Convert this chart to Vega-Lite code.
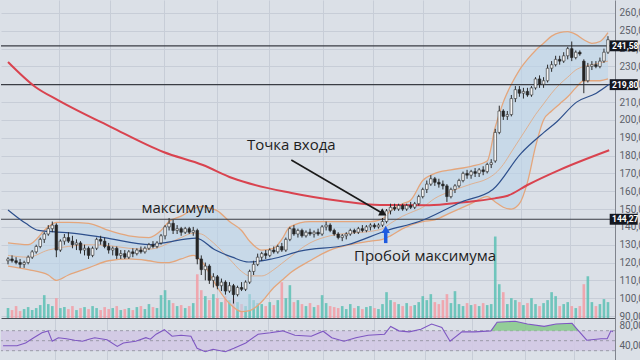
{
"$schema": "https://vega.github.io/schema/vega-lite/v6.json",
"background": "#dbe0e7",
"padding": 0,
"spacing": 0,
"bounds": "flush",
"config": {
  "view": {"stroke": null},
  "axis": {"labelFont": "Roboto", "labelFontSize": 10, "labelColor": "#5b5f69", "gridColor": "#c7cdd7", "ticks": false, "domainColor": "#80848d", "labelPadding": 4, "labelOverlap": false}
},
"datasets": {
  "candles": [
{"i":0,"o":121,"h":123,"l":119,"c":122,"v":10},{"i":1,"o":122,"h":124,"l":120,"c":121,"v":8},{"i":2,"o":121,"h":123,"l":119,"c":120,"v":12},{"i":3,"o":120,"h":122,"l":117,"c":119,"v":7},{"i":4,"o":119,"h":121,"l":117,"c":120,"v":9},
{"i":5,"o":120,"h":124,"l":119,"c":123,"v":11},{"i":6,"o":123,"h":127,"l":122,"c":126,"v":8},{"i":7,"o":126,"h":130,"l":125,"c":129,"v":10},{"i":8,"o":129,"h":134,"l":128,"c":133,"v":13},{"i":9,"o":133,"h":137,"l":131,"c":136,"v":23},
{"i":10,"o":136,"h":141,"l":135,"c":139,"v":14},{"i":11,"o":139,"h":143,"l":137,"c":141,"v":12},{"i":12,"o":141,"h":142,"l":123,"c":127,"v":20},{"i":13,"o":127,"h":133,"l":126,"c":132,"v":10},{"i":14,"o":132,"h":136,"l":130,"c":134,"v":11},
{"i":15,"o":134,"h":137,"l":131,"c":132,"v":9},{"i":16,"o":132,"h":135,"l":128,"c":130,"v":12},{"i":17,"o":130,"h":133,"l":127,"c":131,"v":8},{"i":18,"o":131,"h":132,"l":125,"c":127,"v":10},{"i":19,"o":127,"h":130,"l":124,"c":128,"v":11},
{"i":20,"o":128,"h":129,"l":122,"c":124,"v":9},{"i":21,"o":124,"h":129,"l":123,"c":128,"v":12},{"i":22,"o":128,"h":134,"l":127,"c":133,"v":10},{"i":23,"o":133,"h":135,"l":130,"c":132,"v":8},{"i":24,"o":132,"h":134,"l":128,"c":129,"v":11},
{"i":25,"o":129,"h":131,"l":125,"c":127,"v":9},{"i":26,"o":127,"h":129,"l":124,"c":128,"v":10},{"i":27,"o":128,"h":129,"l":122,"c":124,"v":12},{"i":28,"o":124,"h":127,"l":122,"c":125,"v":8},{"i":29,"o":125,"h":127,"l":122,"c":123,"v":9},
{"i":30,"o":123,"h":127,"l":122,"c":126,"v":10},{"i":31,"o":126,"h":128,"l":123,"c":125,"v":8},{"i":32,"o":125,"h":128,"l":124,"c":127,"v":11},{"i":33,"o":127,"h":129,"l":125,"c":126,"v":12},{"i":34,"o":126,"h":129,"l":125,"c":128,"v":9},
{"i":35,"o":128,"h":131,"l":127,"c":130,"v":14},{"i":36,"o":130,"h":132,"l":128,"c":129,"v":11},{"i":37,"o":129,"h":132,"l":128,"c":131,"v":10},{"i":38,"o":131,"h":136,"l":130,"c":135,"v":23},{"i":39,"o":135,"h":141,"l":133,"c":140,"v":28},
{"i":40,"o":140,"h":145,"l":138,"c":142,"v":18},{"i":41,"o":142,"h":144,"l":136,"c":138,"v":15},{"i":42,"o":138,"h":141,"l":136,"c":139,"v":12},{"i":43,"o":139,"h":140,"l":135,"c":137,"v":13},{"i":44,"o":137,"h":140,"l":136,"c":139,"v":10},
{"i":45,"o":139,"h":140,"l":136,"c":137,"v":12},{"i":46,"o":137,"h":140,"l":135,"c":138,"v":15},{"i":47,"o":138,"h":139,"l":119,"c":122,"v":44},{"i":48,"o":122,"h":124,"l":113,"c":116,"v":28},{"i":49,"o":116,"h":120,"l":110,"c":118,"v":22},
{"i":50,"o":118,"h":119,"l":108,"c":110,"v":18},{"i":51,"o":110,"h":114,"l":106,"c":112,"v":24},{"i":52,"o":112,"h":113,"l":105,"c":107,"v":20},{"i":53,"o":107,"h":111,"l":104,"c":109,"v":16},{"i":54,"o":109,"h":110,"l":102,"c":104,"v":22},
{"i":55,"o":104,"h":109,"l":103,"c":107,"v":18},{"i":56,"o":107,"h":108,"l":97,"c":102,"v":20},{"i":57,"o":102,"h":107,"l":101,"c":106,"v":16},{"i":58,"o":106,"h":109,"l":104,"c":105,"v":14},{"i":59,"o":105,"h":110,"l":104,"c":109,"v":12},
{"i":60,"o":109,"h":116,"l":108,"c":115,"v":24},{"i":61,"o":115,"h":121,"l":113,"c":119,"v":18},{"i":62,"o":119,"h":125,"l":118,"c":123,"v":15},{"i":63,"o":123,"h":126,"l":121,"c":125,"v":14},{"i":64,"o":125,"h":127,"l":122,"c":124,"v":12},
{"i":65,"o":124,"h":128,"l":123,"c":127,"v":16},{"i":66,"o":127,"h":129,"l":125,"c":126,"v":13},{"i":67,"o":126,"h":130,"l":125,"c":129,"v":18},{"i":68,"o":129,"h":131,"l":126,"c":127,"v":36},{"i":69,"o":127,"h":134,"l":126,"c":133,"v":20},
{"i":70,"o":133,"h":140,"l":132,"c":139,"v":33},{"i":71,"o":139,"h":141,"l":135,"c":136,"v":16},{"i":72,"o":136,"h":139,"l":134,"c":138,"v":18},{"i":73,"o":138,"h":139,"l":134,"c":135,"v":14},{"i":74,"o":135,"h":138,"l":134,"c":137,"v":12},
{"i":75,"o":137,"h":139,"l":135,"c":136,"v":15},{"i":76,"o":136,"h":138,"l":134,"c":137,"v":11},{"i":77,"o":137,"h":139,"l":135,"c":136,"v":13},{"i":78,"o":136,"h":141,"l":135,"c":140,"v":23},{"i":79,"o":140,"h":143,"l":138,"c":141,"v":15},
{"i":80,"o":141,"h":142,"l":137,"c":138,"v":12},{"i":81,"o":138,"h":139,"l":135,"c":136,"v":11},{"i":82,"o":136,"h":137,"l":133,"c":134,"v":10},{"i":83,"o":134,"h":136,"l":132,"c":135,"v":12},{"i":84,"o":135,"h":137,"l":133,"c":136,"v":9},
{"i":85,"o":136,"h":139,"l":135,"c":138,"v":14},{"i":86,"o":138,"h":139,"l":136,"c":137,"v":10},{"i":87,"o":137,"h":140,"l":136,"c":139,"v":12},{"i":88,"o":139,"h":141,"l":137,"c":138,"v":9},{"i":89,"o":138,"h":141,"l":137,"c":140,"v":11},
{"i":90,"o":140,"h":142,"l":138,"c":141,"v":12},{"i":91,"o":141,"h":142,"l":139,"c":140,"v":10},{"i":92,"o":140,"h":142,"l":139,"c":141,"v":9},{"i":93,"o":141,"h":145,"l":140,"c":143,"v":14},{"i":94,"o":143,"h":150,"l":142,"c":149,"v":26},
{"i":95,"o":149,"h":153,"l":147,"c":151,"v":18},{"i":96,"o":151,"h":153,"l":149,"c":150,"v":16},{"i":97,"o":150,"h":153,"l":149,"c":152,"v":14},{"i":98,"o":152,"h":153,"l":149,"c":150,"v":12},{"i":99,"o":150,"h":153,"l":149,"c":152,"v":15},
{"i":100,"o":152,"h":154,"l":150,"c":151,"v":12},{"i":101,"o":151,"h":154,"l":150,"c":153,"v":13},{"i":102,"o":153,"h":158,"l":152,"c":157,"v":16},{"i":103,"o":157,"h":162,"l":156,"c":161,"v":22},{"i":104,"o":161,"h":166,"l":159,"c":164,"v":18},
{"i":105,"o":164,"h":169,"l":163,"c":167,"v":24},{"i":106,"o":167,"h":168,"l":163,"c":165,"v":16},{"i":107,"o":165,"h":167,"l":162,"c":164,"v":14},{"i":108,"o":164,"h":166,"l":161,"c":163,"v":18},{"i":109,"o":163,"h":164,"l":154,"c":157,"v":24},
{"i":110,"o":157,"h":162,"l":156,"c":161,"v":15},{"i":111,"o":161,"h":164,"l":159,"c":163,"v":27},{"i":112,"o":163,"h":167,"l":162,"c":166,"v":14},{"i":113,"o":166,"h":171,"l":165,"c":170,"v":12},{"i":114,"o":170,"h":172,"l":167,"c":169,"v":15},
{"i":115,"o":169,"h":172,"l":167,"c":171,"v":13},{"i":116,"o":171,"h":173,"l":168,"c":170,"v":14},{"i":117,"o":170,"h":173,"l":168,"c":172,"v":12},{"i":118,"o":172,"h":174,"l":169,"c":171,"v":15},{"i":119,"o":171,"h":176,"l":170,"c":175,"v":13},
{"i":120,"o":175,"h":178,"l":173,"c":176,"v":14},{"i":121,"o":177,"h":195,"l":176,"c":193,"v":82},{"i":122,"o":193,"h":208,"l":192,"c":205,"v":34},{"i":123,"o":205,"h":206,"l":200,"c":202,"v":26},{"i":124,"o":202,"h":205,"l":200,"c":203,"v":14},
{"i":125,"o":203,"h":214,"l":202,"c":212,"v":20},{"i":126,"o":212,"h":219,"l":210,"c":217,"v":18},{"i":127,"o":217,"h":219,"l":213,"c":215,"v":16},{"i":128,"o":215,"h":218,"l":212,"c":216,"v":13},{"i":129,"o":216,"h":218,"l":213,"c":214,"v":15},
{"i":130,"o":214,"h":219,"l":213,"c":218,"v":20},{"i":131,"o":218,"h":224,"l":217,"c":223,"v":14},{"i":132,"o":223,"h":225,"l":218,"c":220,"v":12},{"i":133,"o":220,"h":224,"l":218,"c":222,"v":15},{"i":134,"o":222,"h":231,"l":221,"c":229,"v":18},
{"i":135,"o":229,"h":233,"l":227,"c":231,"v":26},{"i":136,"o":231,"h":236,"l":230,"c":234,"v":22},{"i":137,"o":234,"h":236,"l":231,"c":233,"v":12},{"i":138,"o":233,"h":238,"l":232,"c":236,"v":14},{"i":139,"o":236,"h":241,"l":234,"c":240,"v":16},
{"i":140,"o":240,"h":244,"l":233,"c":235,"v":12},{"i":141,"o":235,"h":239,"l":234,"c":238,"v":10},{"i":142,"o":238,"h":239,"l":236,"c":237,"v":12},{"i":143,"o":233,"h":234,"l":215,"c":222,"v":34},{"i":144,"o":222,"h":232,"l":221,"c":230,"v":42},
{"i":145,"o":230,"h":233,"l":228,"c":231,"v":16},{"i":146,"o":231,"h":233,"l":229,"c":230,"v":12},{"i":147,"o":230,"h":235,"l":229,"c":233,"v":14},{"i":148,"o":233,"h":240,"l":232,"c":238,"v":19},{"i":149,"o":238,"h":247,"l":237,"c":245,"v":16}
  ],
  "bb": [
{"i":0,"u":131,"m":124,"lo":118},{"i":5,"u":130,"m":123,"lo":116},{"i":10,"u":140,"m":127,"lo":113},{"i":12,"u":142.5,"m":128,"lo":110},{"i":15,"u":142.5,"m":129,"lo":113},
{"i":20,"u":142,"m":130,"lo":117},{"i":25,"u":138,"m":129.5,"lo":121},{"i":30,"u":135,"m":128,"lo":122},{"i":35,"u":134,"m":127.5,"lo":121},{"i":38,"u":138,"m":129,"lo":120},
{"i":40,"u":143,"m":131,"lo":120},{"i":43,"u":146,"m":134,"lo":122},{"i":46,"u":150,"m":136.5,"lo":124},{"i":48,"u":151.5,"m":136,"lo":121},{"i":50,"u":150.5,"m":133,"lo":114},
{"i":52,"u":149,"m":129,"lo":106},{"i":55,"u":143,"m":122,"lo":97},{"i":58,"u":138,"m":115,"lo":92.5},{"i":60,"u":132,"m":112.5,"lo":93},{"i":63,"u":127,"m":112.5,"lo":98},
{"i":66,"u":128,"m":116,"lo":106},{"i":68,"u":133,"m":119.5,"lo":110},{"i":70,"u":140,"m":123,"lo":114},{"i":75,"u":143,"m":131,"lo":121},{"i":80,"u":143,"m":135,"lo":127},
{"i":85,"u":143,"m":136.5,"lo":130},{"i":90,"u":143,"m":137.5,"lo":132},{"i":93,"u":144.5,"m":139,"lo":133},{"i":95,"u":149,"m":142,"lo":135},{"i":98,"u":153,"m":146,"lo":139},
{"i":100,"u":155,"m":148,"lo":141},{"i":103,"u":166,"m":151,"lo":143},{"i":106,"u":170,"m":156,"lo":144},{"i":110,"u":172,"m":160,"lo":148},{"i":115,"u":174,"m":164,"lo":153},
{"i":119,"u":177,"m":167,"lo":157},{"i":121,"u":196,"m":170,"lo":154},{"i":123,"u":210,"m":175,"lo":151},{"i":125,"u":220,"m":182,"lo":150},{"i":127,"u":228,"m":189,"lo":153},
{"i":129,"u":234,"m":196,"lo":165},{"i":131,"u":239,"m":203,"lo":185},{"i":133,"u":243,"m":209,"lo":200},{"i":135,"u":247,"m":215,"lo":205},{"i":137,"u":249,"m":220,"lo":209},
{"i":139,"u":249.5,"m":224,"lo":213},{"i":141,"u":248,"m":228,"lo":218},{"i":143,"u":245,"m":230,"lo":222},{"i":145,"u":243,"m":231,"lo":222},{"i":147,"u":244,"m":232,"lo":222},{"i":149,"u":249,"m":233,"lo":223}
  ],
  "ema": [
{"i":0,"v":149.5},{"i":4.4,"v":142},{"i":7.6,"v":138},{"i":15.9,"v":136.5},{"i":23.9,"v":134},{"i":35.4,"v":130},{"i":38.6,"v":131},{"i":46.7,"v":133.7},{"i":51.5,"v":127},{"i":55.7,"v":123},{"i":59.8,"v":120.3},{"i":65.5,"v":122},{"i":72.8,"v":126.5},{"i":84.3,"v":130},{"i":94.1,"v":138},{"i":102.1,"v":143},{"i":112.6,"v":154},{"i":120.4,"v":161},{"i":127.3,"v":181},{"i":133.1,"v":193},{"i":136.3,"v":199},{"i":141.2,"v":210},{"i":146.1,"v":215},{"i":149.3,"v":220}
  ],
  "sma": [
{"i":0,"v":232.5},{"i":6.8,"v":218.5},{"i":12.5,"v":211},{"i":25.6,"v":196},{"i":38.6,"v":182},{"i":48.4,"v":174.7},{"i":55.7,"v":167.4},{"i":70.4,"v":159},{"i":82.6,"v":154.5},{"i":92.3,"v":152.3},{"i":104.6,"v":152.2},{"i":112.6,"v":153.7},{"i":120.9,"v":156},{"i":124.1,"v":157.5},{"i":129,"v":163.5},{"i":137,"v":172},{"i":149.3,"v":183}
  ],
  "rsi": [
{"i":0,"r":40},{"i":3.4,"r":40},{"i":5.5,"r":45.5},{"i":7.5,"r":56},{"i":9.5,"r":66},{"i":11,"r":69.7},{"i":12,"r":49},{"i":13.5,"r":56},{"i":15.5,"r":54},{"i":17.5,"r":51},{"i":19.4,"r":49},{"i":21,"r":53},{"i":22.4,"r":56},{"i":25.4,"r":52},{"i":27.9,"r":38.6},{"i":29.4,"r":45.5},{"i":32.4,"r":49},{"i":34.9,"r":56},{"i":36,"r":53},{"i":37.4,"r":63},{"i":39.4,"r":72},{"i":41.3,"r":59},{"i":43.5,"r":61},{"i":45.9,"r":59},{"i":47.4,"r":35},{"i":49.4,"r":28},{"i":51.3,"r":33},{"i":54.3,"r":28},{"i":56.4,"r":35},{"i":59.3,"r":45.5},{"i":62.3,"r":63},{"i":65.3,"r":66},{"i":68.3,"r":69.7},{"i":71.3,"r":61},{"i":75.3,"r":59},{"i":78.2,"r":69},{"i":80.3,"r":56},{"i":83.3,"r":49},{"i":86.2,"r":56},{"i":89.2,"r":61},{"i":93.2,"r":63},{"i":94.7,"r":78.6},{"i":96.7,"r":69.7},{"i":99.2,"r":67.6},{"i":102.1,"r":73},{"i":104.7,"r":83.4},{"i":107.2,"r":76.6},{"i":109.2,"r":49},{"i":112.1,"r":67.6},{"i":115.2,"r":67.6},{"i":119.2,"r":69.7},{"i":120.7,"r":87},{"i":125.1,"r":89},{"i":128.1,"r":83.4},{"i":132.2,"r":78.6},{"i":135.1,"r":83.4},{"i":139,"r":84.8},{"i":140.6,"r":69.7},{"i":142.6,"r":51},{"i":146.1,"r":53.8},{"i":147.6,"r":53.8},{"i":148.5,"r":69.7},{"i":149,"r":68}
  ],
  "levels": [
{"p":241.58,"t":"241,58"},{"p":219.8,"t":"219,80"},{"p":144.27,"t":"144,27"}
  ],
  "notes": [
{"i":70.35,"p":185.9,"t":"Точка входа"},{"i":42.25,"p":150.6,"t":"максимум"},{"i":103.57,"p":123.7,"t":"Пробой максимума"}
  ]
},
"vconcat": [
{
  "width": 614,
  "height": 318,
  "resolve": {"scale": {"y": "independent"}},
  "layer": [
    {
      "data": {"name": "candles"},
      "mark": {"type": "bar", "width": 2.6, "opacity": 0.85},
      "encoding": {
        "x": {"field": "i", "type": "quantitative", "title": null, "scale": {"domain": [-0.5, 149.5], "nice": false, "zero": false}, "axis": {"values": [12.7, 25.4, 38.8, 52, 64.7, 78.2, 90.6, 103.1, 114.6, 127.5, 139.5], "tickCount": 20, "labels": false, "domain": false, "grid": true, "title": null}},
        "y": {"field": "v", "type": "quantitative", "scale": {"domain": [0, 320]}, "axis": null},
        "color": {"condition": {"test": "datum.c >= datum.o", "value": "#5cc0b4"}, "value": "#f29ca4"}
      }
    },
    {
      "layer": [
        {
          "data": {"name": "bb"},
          "mark": {"type": "area", "color": "#bad4ea", "opacity": 0.6, "interpolate": "monotone"},
          "encoding": {
            "x": {"field": "i", "type": "quantitative", "title": null},
            "y": {"field": "u", "type": "quantitative", "scale": {"domain": [88.88, 267.29], "nice": false, "zero": false}, "axis": {"orient": "right", "title": null, "grid": true, "domain": true, "domainColor": "#80848d", "labelOverlap": false, "tickCount": 30, "values": [90,100,110,120,130,140,150,160,170,180,190,200,210,220,230,240,250,260], "labelExpr": "replace(format(datum.value, '.3f'), '.', ',')"}},
            "y2": {"field": "lo"}
          }
        },
        {
          "data": {"name": "bb"},
          "mark": {"type": "line", "color": "#e4a67c", "strokeWidth": 1.3, "interpolate": "monotone"},
          "encoding": {"x": {"field": "i", "type": "quantitative"}, "y": {"field": "u", "type": "quantitative"}}
        },
        {
          "data": {"name": "bb"},
          "mark": {"type": "line", "color": "#e4a67c", "strokeWidth": 1.3, "interpolate": "monotone"},
          "encoding": {"x": {"field": "i", "type": "quantitative"}, "y": {"field": "lo", "type": "quantitative"}}
        },
        {
          "data": {"name": "bb"},
          "mark": {"type": "line", "color": "#e4a67c", "strokeWidth": 1, "opacity": 0.8, "interpolate": "monotone"},
          "encoding": {"x": {"field": "i", "type": "quantitative"}, "y": {"field": "m", "type": "quantitative"}}
        },
        {
          "data": {"name": "levels"},
          "mark": {"type": "rule", "color": "#3a3d44", "strokeWidth": 1.2},
          "encoding": {"y": {"field": "p", "type": "quantitative"}}
        },
        {
          "data": {"name": "sma"},
          "mark": {"type": "line", "color": "#d9434f", "strokeWidth": 2, "interpolate": "monotone"},
          "encoding": {"x": {"field": "i", "type": "quantitative"}, "y": {"field": "v", "type": "quantitative"}}
        },
        {
          "data": {"name": "ema"},
          "mark": {"type": "line", "color": "#2d4f8c", "strokeWidth": 1.2, "interpolate": "monotone"},
          "encoding": {"x": {"field": "i", "type": "quantitative"}, "y": {"field": "v", "type": "quantitative"}}
        },
        {
          "data": {"name": "candles"},
          "mark": {"type": "rule", "color": "#2a2a2a", "strokeWidth": 1},
          "encoding": {"x": {"field": "i", "type": "quantitative"}, "y": {"field": "l", "type": "quantitative"}, "y2": {"field": "h"}}
        },
        {
          "data": {"name": "candles"},
          "mark": {"type": "bar", "width": 2.6, "stroke": "#2a2a2a", "strokeWidth": 0.6},
          "encoding": {
            "x": {"field": "i", "type": "quantitative"},
            "y": {"field": "o", "type": "quantitative"},
            "y2": {"field": "c"},
            "color": {"condition": {"test": "datum.c >= datum.o", "value": "#f4f4f4"}, "value": "#242424"}
          }
        },
        {
          "data": {"values": [{"i": 70.35, "p": 177.5}, {"i": 93.2, "p": 147.4}]},
          "mark": {"type": "line", "color": "#1a1a1a", "strokeWidth": 1.6},
          "encoding": {"x": {"field": "i", "type": "quantitative"}, "y": {"field": "p", "type": "quantitative"}}
        },
        {
          "data": {"values": [{"i": 93.2, "p": 147.4}]},
          "mark": {"type": "point", "shape": "triangle-right", "filled": true, "color": "#1a1a1a", "size": 70, "angle": 30, "opacity": 1},
          "encoding": {"x": {"field": "i", "type": "quantitative"}, "y": {"field": "p", "type": "quantitative"}}
        },
        {
          "data": {"values": [{"i": 93.8, "a": 130.9, "b": 137.5}]},
          "mark": {"type": "rule", "color": "#1e5be0", "strokeWidth": 3.5},
          "encoding": {"x": {"field": "i", "type": "quantitative"}, "y": {"field": "a", "type": "quantitative"}, "y2": {"field": "b"}}
        },
        {
          "data": {"values": [{"i": 93.8, "p": 138.6}]},
          "mark": {"type": "point", "shape": "triangle-up", "filled": true, "color": "#1e5be0", "size": 70, "opacity": 1},
          "encoding": {"x": {"field": "i", "type": "quantitative"}, "y": {"field": "p", "type": "quantitative"}}
        },
        {
          "data": {"name": "notes"},
          "mark": {"type": "text", "font": "Open Sans", "fontSize": 15, "color": "#1e1e1e", "align": "center", "baseline": "middle"},
          "encoding": {"x": {"field": "i", "type": "quantitative"}, "y": {"field": "p", "type": "quantitative"}, "text": {"field": "t"}}
        },
        {
          "data": {"name": "levels"},
          "mark": {"type": "point", "shape": "M-1,-0.39L1,-0.39L1,0.39L-1,0.39Z", "filled": true, "color": "#151820", "size": 784, "opacity": 1},
          "encoding": {"x": {"datum": 152.9, "type": "quantitative"}, "y": {"field": "p", "type": "quantitative"}}
        },
        {
          "data": {"name": "levels"},
          "mark": {"type": "text", "font": "Roboto", "fontSize": 8.5, "fontWeight": "bold", "color": "#ffffff", "align": "left", "baseline": "middle"},
          "encoding": {"x": {"datum": 150.0, "type": "quantitative"}, "y": {"field": "p", "type": "quantitative"}, "text": {"field": "t"}}
        }
      ]
    }
  ]
},
{
  "width": 614,
  "height": 42,
  "layer": [
    {
      "data": {"values": [{"a": 30, "b": 70}]},
      "mark": {"type": "rect", "color": "#d1c9e4", "opacity": 0.9},
      "encoding": {
        "y": {"field": "a", "type": "quantitative", "scale": {"domain": [11.4, 95.4], "nice": false, "zero": false}, "axis": {"orient": "right", "title": null, "grid": false, "domain": true, "domainColor": "#80848d", "labelOverlap": false, "tickCount": 5, "values": [40, 80], "labelExpr": "replace(format(datum.value, '.2f'), '.', ',')"}},
        "y2": {"field": "b"}
      }
    },
    {
      "data": {"values": [{"g": 70}, {"g": 50}, {"g": 30}]},
      "mark": {"type": "rule", "color": "#9a9aa8", "strokeWidth": 1, "strokeDash": [3, 3]},
      "encoding": {"y": {"field": "g", "type": "quantitative"}}
    },
    {
      "data": {"name": "rsi"},
      "transform": [{"filter": "datum.i >= 119.2 && datum.i <= 140.6"}],
      "mark": {"type": "area", "color": "#86c98a", "opacity": 0.85},
      "encoding": {
        "x": {"field": "i", "type": "quantitative", "title": null, "scale": {"domain": [-0.5, 149.5], "nice": false, "zero": false}, "axis": {"orient": "top", "values": [12.7, 25.4, 38.8, 52, 64.7, 78.2, 90.6, 103.1, 114.6, 127.5, 139.5], "tickCount": 20, "labels": false, "domain": true, "domainColor": "#4a4e57", "grid": true, "title": null}},
        "y": {"field": "r", "type": "quantitative"},
        "y2": {"datum": 70}
      }
    },
    {
      "data": {"name": "rsi"},
      "mark": {"type": "line", "color": "#7e57c2", "strokeWidth": 1.1},
      "encoding": {"x": {"field": "i", "type": "quantitative"}, "y": {"field": "r", "type": "quantitative"}}
    }
  ]
}
]
}
